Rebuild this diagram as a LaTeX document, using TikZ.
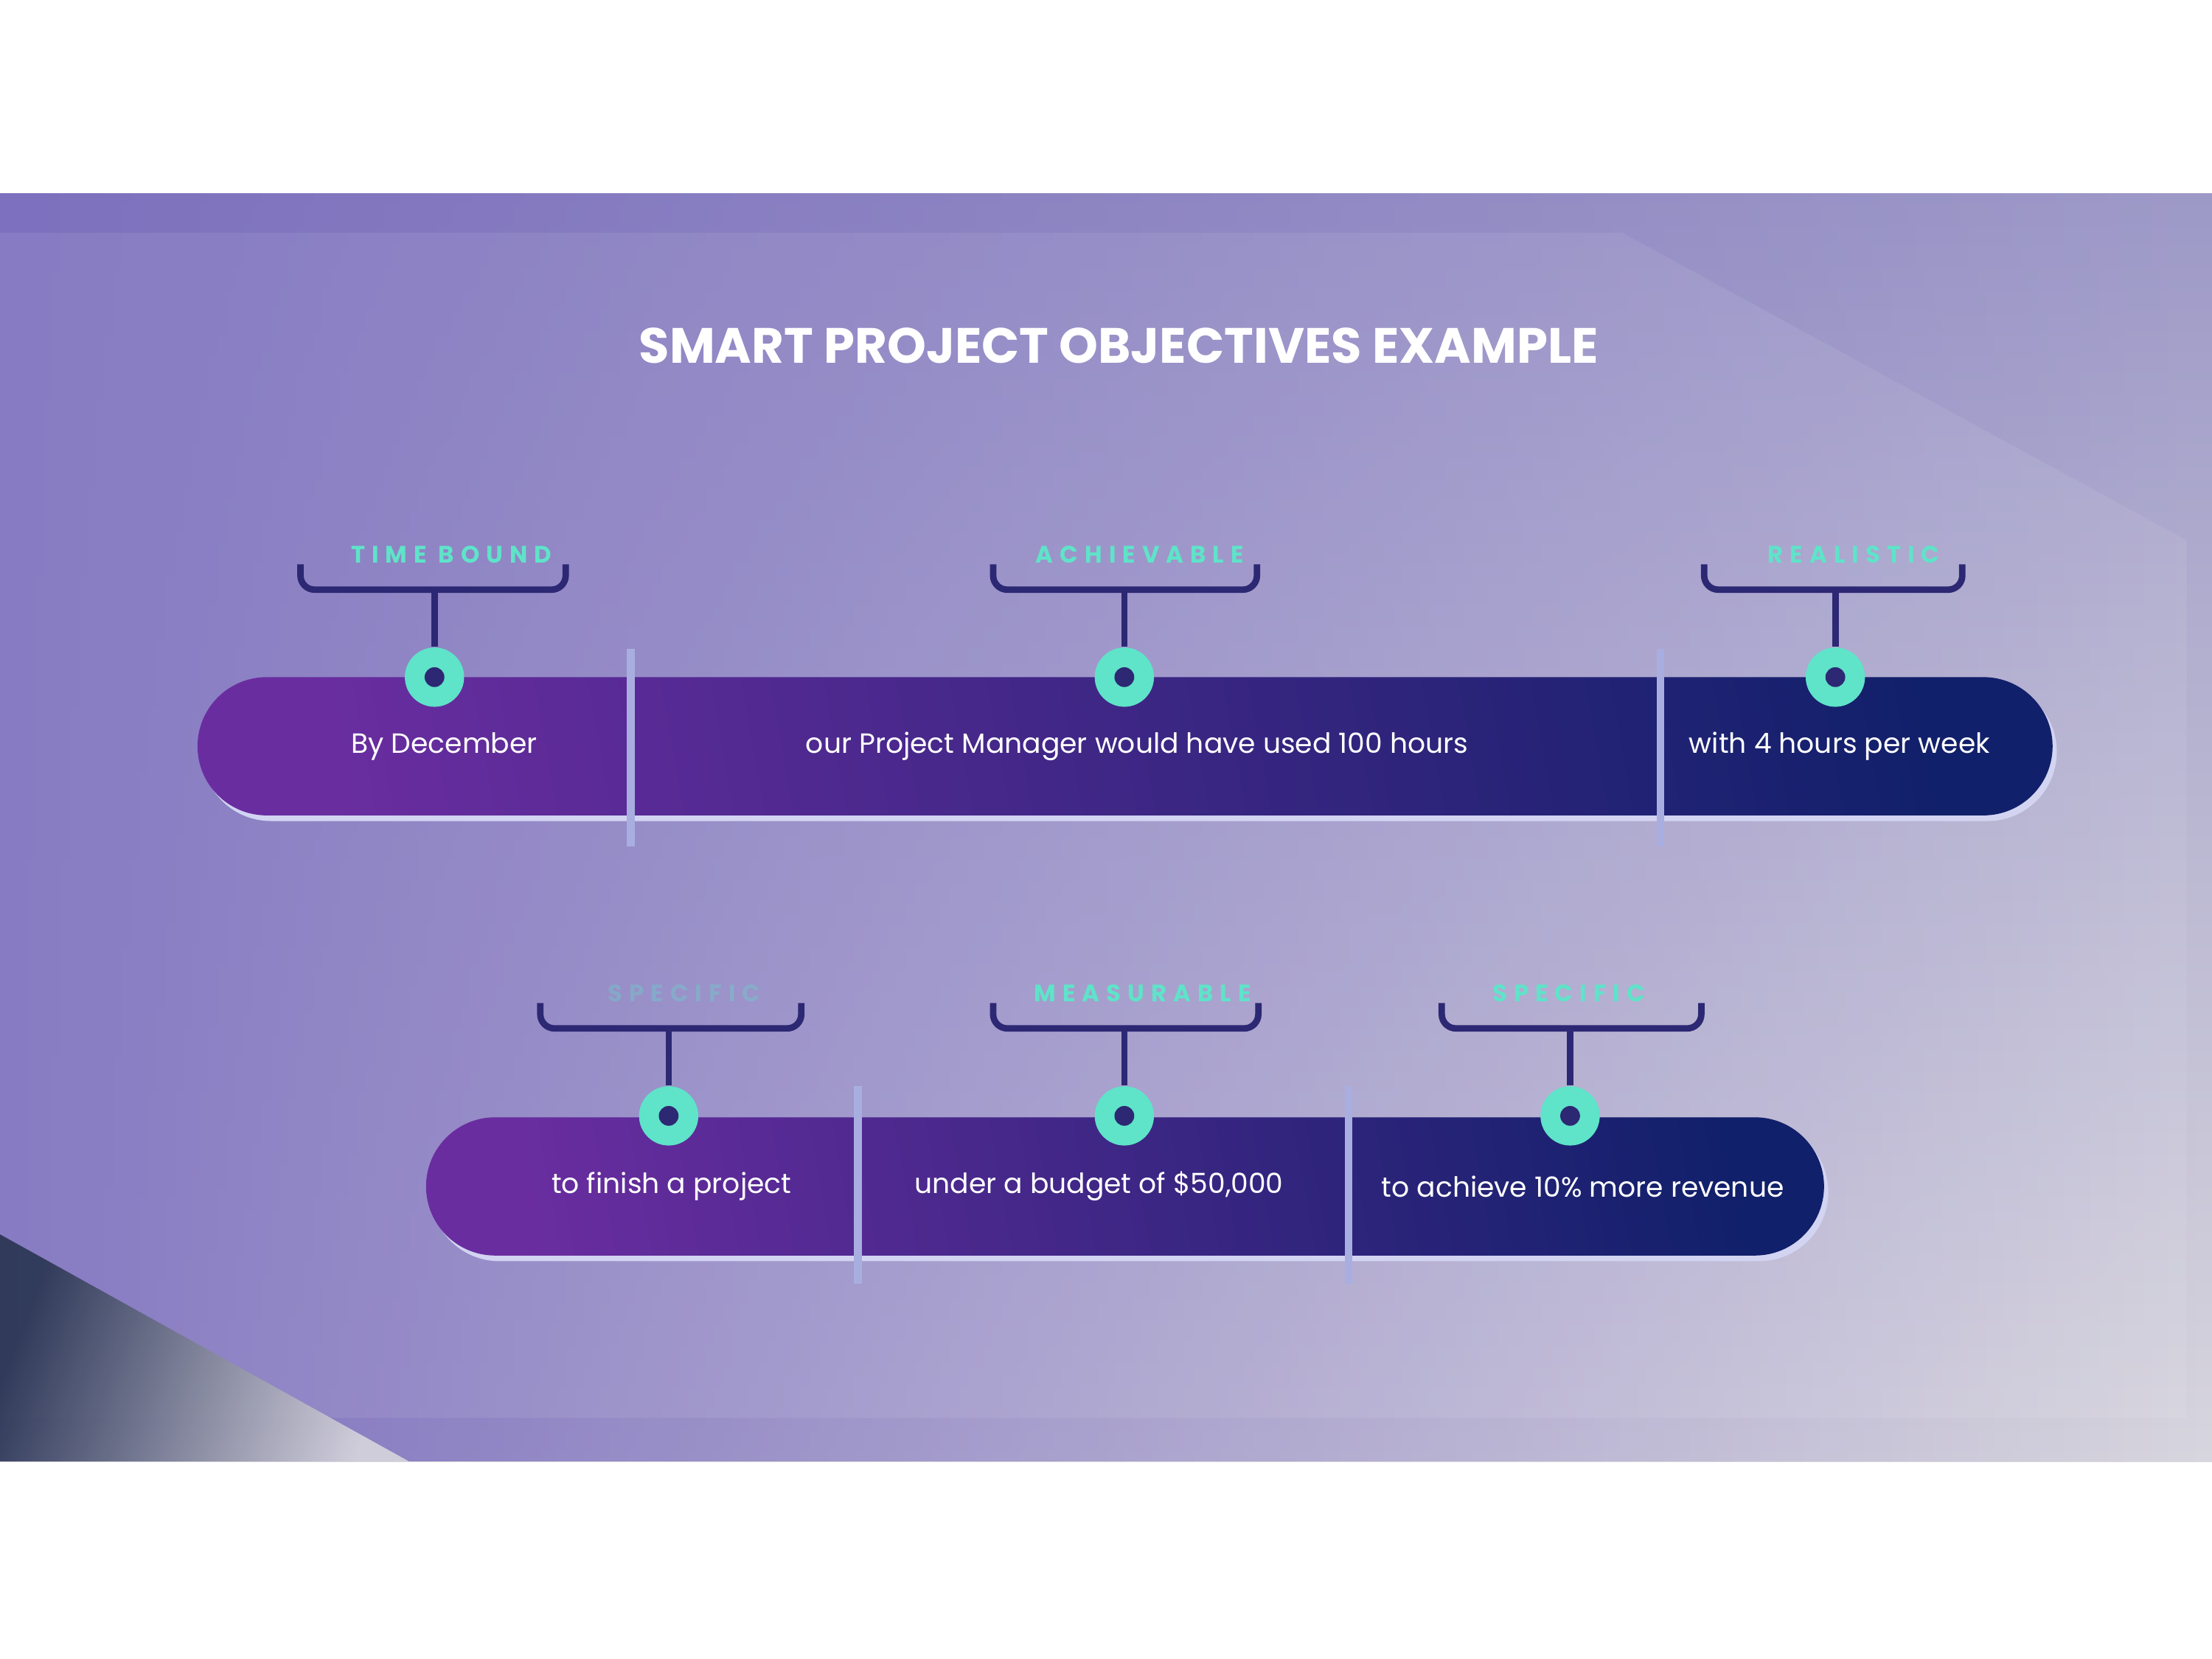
\documentclass[tikz,border=0pt]{standalone}
\usepackage{fontspec}
\setmainfont{Poppins}
\usetikzlibrary{fadings}
\definecolor{teal1}{HTML}{5FE3C9}
\definecolor{navy1}{HTML}{2D2873}
\definecolor{barL}{HTML}{6A2DA0}
\definecolor{barR}{HTML}{11206A}
\definecolor{shad}{HTML}{D2D4F2}
\definecolor{divc}{HTML}{A9AEE0}
\definecolor{bgpurple}{RGB}{125,112,190}
\definecolor{bgtop}{RGB}{158,154,200}
\definecolor{bgbot}{RGB}{216,214,222}
\definecolor{cornerdark}{RGB}{40,52,80}
\tikzset{
 bar/.style={rounded corners=0.49cm, shading=axis, left color=barL, right color=barR, shading angle=100},
 barshadow/.style={rounded corners=0.49cm, fill=shad},
 divider/.style={draw=divc, line width=1.6pt},
 ring/.style={circle, fill=teal1, minimum size=0.42cm, inner sep=0pt, path picture={\fill[navy1] (path picture bounding box.center) circle (0.07cm);}},
 brk/.style={draw=navy1, line width=1.3pt, rounded corners=0.1cm},
 stem/.style={draw=navy1, line width=1.3pt},
 lbl/.style={text=teal1, font=\fontsize{4.8}{5}\selectfont\bfseries\addfontfeature{LetterSpace=28}},
 btxt/.style={text=white, font=\fontsize{5.6}{7}\selectfont},
}
\begin{document}
\begin{tikzpicture}[x=0.01cm,y=-0.01cm]
\useasboundingbox (0,0) rectangle (1568,1176);
\fill[white] (0,0) rectangle (1568,1176);
% background band
\shade[top color=bgtop, bottom color=bgbot] (0,137) rectangle (1568,1036);
\fill[bgpurple, path fading=east] (0,137) rectangle (1568,1036);
\fill[white, opacity=0.08] (0,165) -- (1150,165) -- (1550,383) -- (1550,1005) -- (0,1005) -- cycle;
\shade[left color=cornerdark, right color=bgbot, shading angle=70, opacity=0.9] (0,875) -- (0,1036) -- (290,1036) -- cycle;
% title
\node[text=white, font=\fontsize{10}{12}\selectfont\bfseries] (title) at (793,245) {SMART PROJECT OBJECTIVES EXAMPLE};
% row 1
\fill[barshadow] (143,484) rectangle (1458,582);
\path[bar] (140,480) rectangle (1455,578);
\draw[divider] (447,460) coordinate (d1a) -- (447,600) coordinate (d1b);
\draw[divider] (1177,460) coordinate (d2a) -- (1177,600) coordinate (d2b);
\node[btxt] (t1) at (315,529) {By December};
\node[btxt] (t2) at (806,529) {our Project Manager would have used 100 hours};
\node[btxt] (t3) at (1304,529) {with 4 hours per week};
\foreach \n/\x/\a/\b/\txt/\lx in {r1/308/213/401/TIME BOUND/320, r2/797/704/891/ACHIEVABLE/808, r3/1301/1208/1391/REALISTIC/1314}{
  \draw[brk] (\a,400) -- (\a,418) -- (\b,418) -- (\b,400);
  \coordinate (\n top) at (\x,418);
  \node[ring] (\n) at (\x,480) {};
  \draw[stem] (\n top) -- (\n.north);
  \node[lbl] (\n lbl) at (\lx,393) {\txt};
}
% row 2
\fill[barshadow] (305,796) rectangle (1296,894);
\path[bar] (302,792) rectangle (1293,890);
\draw[divider] (608,770) coordinate (d3a) -- (608,910) coordinate (d3b);
\draw[divider] (956,770) coordinate (d4a) -- (956,910) coordinate (d4b);
\node[btxt] (t4) at (476,841) {to finish a project};
\node[btxt] (t5) at (779,841) {under a budget of \$50,000};
\node[btxt] (t6) at (1122,841) {to achieve 10\% more revenue};
\foreach \n/\x/\a/\b/\txt/\lx/\op in {s1/474/383/568/SPECIFIC/485/0.3, s2/797/704/892/MEASURABLE/810/1, s3/1113/1022/1206/SPECIFIC/1112/1}{
  \draw[brk] (\a,711) -- (\a,729) -- (\b,729) -- (\b,711);
  \coordinate (\n top) at (\x,729);
  \node[ring] (\n) at (\x,791) {};
  \draw[stem] (\n top) -- (\n.north);
  \node[lbl, text opacity=\op] (\n lbl) at (\lx,704) {\txt};
}
\end{tikzpicture}
\end{document}
